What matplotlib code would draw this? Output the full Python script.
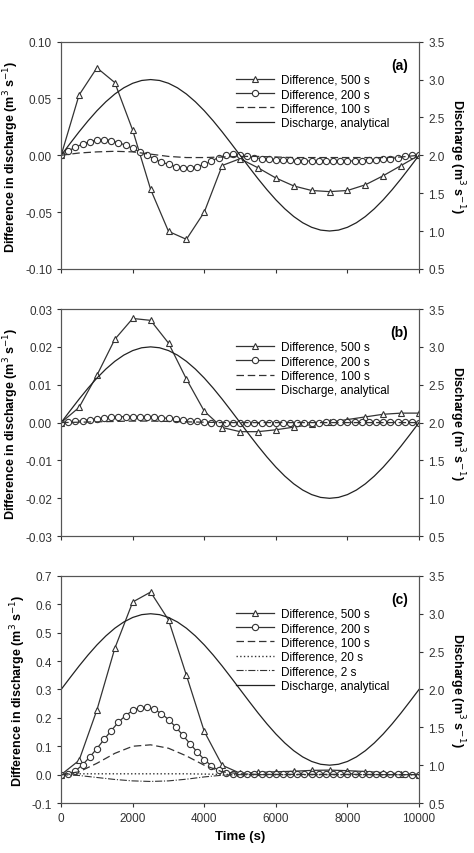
import matplotlib
matplotlib.use("Agg")
import matplotlib.pyplot as plt
import numpy as np

plt.rcParams['font.family'] = ['Liberation Sans', 'DejaVu Sans']

# analytical discharge, 250 s spacing
t_q = list(range(0, 10001, 250))
s = [0.000, 0.156, 0.309, 0.454, 0.588, 0.707, 0.809, 0.891, 0.951, 0.988, 1.000,
     0.988, 0.951, 0.891, 0.809, 0.707, 0.588, 0.454, 0.309, 0.156, 0.000,
     -0.156, -0.309, -0.454, -0.588, -0.707, -0.809, -0.891, -0.951, -0.988, -1.000,
     -0.988, -0.951, -0.891, -0.809, -0.707, -0.588, -0.454, -0.309, -0.156, 0.000]
discharge = [2 + v for v in s]

t500 = list(range(0, 10001, 500))
t200 = list(range(0, 10001, 200))
t100 = list(range(0, 10001, 500))

# panel (a)
a500 = [0, 0.053, 0.077, 0.064, 0.022, -0.030, -0.067, -0.074, -0.050, -0.009, -0.003,
        -0.011, -0.020, -0.027, -0.031, -0.032, -0.031, -0.026, -0.018, -0.009, 0]
a200 = [0, 0.004, 0.007, 0.010, 0.012, 0.0135, 0.0138, 0.013, 0.011, 0.009, 0.006,
        0.003, 0.000, -0.003, -0.006, -0.008, -0.010, -0.011, -0.011, -0.010, -0.008,
        -0.005, -0.002, 0.000, 0.001, 0.000, -0.001, -0.002, -0.003, -0.003, -0.004,
        -0.004, -0.0045, -0.005, -0.005, -0.005, -0.005, -0.005, -0.005, -0.005, -0.005,
        -0.005, -0.005, -0.004, -0.004, -0.003, -0.003, -0.002, -0.001, 0.000, 0]
a100 = [0, 0.002, 0.003, 0.0035, 0.003, 0.001, -0.001, -0.002, -0.002, -0.0015, -0.001,
        -0.001, -0.0015, -0.002, -0.002, -0.002, -0.002, -0.002, -0.002, -0.0015, 0]

# panel (b)
b500 = [0, 0.004, 0.0125, 0.022, 0.0275, 0.027, 0.021, 0.0115, 0.003, -0.0013, -0.0024,
        -0.0024, -0.0019, -0.0012, -0.0005, 0.0001, 0.0008, 0.0015, 0.0022, 0.0025, 0.0025]
b200 = [0, 0.0001, 0.0003, 0.0005, 0.0008, 0.0010, 0.0012, 0.0014, 0.0015, 0.0016, 0.0016,
        0.0016, 0.0016, 0.0015, 0.0013, 0.0011, 0.0009, 0.0007, 0.0005, 0.0003, 0.0001,
        0.0000, -0.0001, -0.0002, -0.0002, -0.0002, -0.0002, -0.0002, -0.0002, -0.0002, -0.0002,
        -0.0002, -0.0001, -0.0001, -0.0001, 0.0000, 0.0000, 0.0001, 0.0001, 0.0001, 0.0001,
        0.0001, 0.0001, 0.0001, 0.0001, 0.0001, 0.0001, 0.0001, 0.0001, 0.0001, 0]
b100 = [0, 0.0001, 0.0002, 0.0003, 0.0004, 0.0004, 0.0003, 0.0002, 0.0001, 0.0000, 0.0000,
        0.0000, 0.0000, 0.0000, 0.0000, 0.0000, 0.0000, 0.0000, 0.0000, 0.0000, 0]

# panel (c)
c500 = [0, 0.05, 0.228, 0.445, 0.608, 0.643, 0.545, 0.35, 0.152, 0.033, 0.005,
        0.008, 0.010, 0.012, 0.015, 0.016, 0.014, 0.011, 0.007, 0.003, 0]
c200 = [0, 0.003, 0.013, 0.035, 0.062, 0.092, 0.124, 0.155, 0.185, 0.208, 0.226,
        0.236, 0.237, 0.230, 0.215, 0.194, 0.168, 0.139, 0.109, 0.080, 0.053,
        0.031, 0.015, 0.007, 0.003, 0.002, 0.002, 0.002, 0.003, 0.003, 0.003,
        0.003, 0.003, 0.003, 0.003, 0.003, 0.003, 0.003, 0.003, 0.003, 0.003,
        0.003, 0.003, 0.002, 0.002, 0.002, 0.001, 0.001, 0.001, 0.000, 0]
c100 = [0, 0.01, 0.04, 0.075, 0.100, 0.105, 0.093, 0.066, 0.033, 0.010, 0.003,
        0.001, 0.001, 0.001, 0.001, 0.001, 0.001, 0.001, 0.000, 0.000, 0]
c20 = [0, 0.003, 0.003, 0.003, 0.003, 0.003, 0.003, 0.003, 0.002, 0.001, 0.000,
       0.000, 0.000, 0.000, 0.000, 0.000, 0.000, 0.000, 0.000, 0.000, 0]
c2 = [0, -0.003, -0.010, -0.017, -0.022, -0.024, -0.022, -0.016, -0.008, -0.002, 0.000,
      0.000, 0.000, 0.000, 0.000, 0.000, 0.000, 0.000, 0.000, 0.000, 0]

fig = plt.figure(figsize=(4.74, 8.54), dpi=100)
L, W, H = 0.129, 0.755, 0.266
bottoms = [0.684, 0.371, 0.0585]
panels = [
    ("(a)", (-0.10, 0.10), [-0.10, -0.05, 0.00, 0.05, 0.10], "%.2f",
     [(a500, '500'), (a200, '200'), (a100, '100')]),
    ("(b)", (-0.03, 0.03), [-0.03, -0.02, -0.01, 0.00, 0.01, 0.02, 0.03], "%.2f",
     [(b500, '500'), (b200, '200'), (b100, '100')]),
    ("(c)", (-0.1, 0.7), [-0.1, 0, 0.1, 0.2, 0.3, 0.4, 0.5, 0.6, 0.7], "%.1f",
     [(c500, '500'), (c200, '200'), (c100, '100'), (c20, '20'), (c2, '2')]),
]
ylab = "Difference in discharge (m$^3$ s$^{-1}$)"
for i, (tag, ylim, yt, fmt, series) in enumerate(panels):
    ax = fig.add_axes([L, bottoms[i], W, H])
    ax2 = ax.twinx()
    handles = []
    for data, name in series:
        lab = f"Difference, {name} s"
        if name == '500':
            h, = ax.plot(t500, data, '-', color='#333333', lw=0.9, marker='^',
                         mfc='white', mec='#333333', ms=4.5, mew=0.8, label=lab)
        elif name == '200':
            h, = ax.plot(t200, data, '-', color='#333333', lw=0.9, marker='o',
                         mfc='white', mec='#333333', ms=4.5, mew=0.8, label=lab)
        elif name == '100':
            h, = ax.plot(t100, data, '--', color='#333333', lw=0.9, dashes=(6, 3), label=lab)
        elif name == '20':
            h, = ax.plot(t100, data, ':', color='#333333', lw=1.0, label=lab)
        else:
            h, = ax.plot(t100, data, '-.', color='#333333', lw=0.8, label=lab)
        handles.append(h)
    hq, = ax2.plot(t_q, discharge, '-', color='#222222', lw=0.9, label="Discharge, analytical")
    handles.append(hq)
    ax.set_xlim(0, 10000)
    ax.set_ylim(*ylim)
    ax.set_yticks(yt)
    ax.set_yticklabels([fmt % v for v in yt], fontsize=8.5)
    ax2.set_ylim(0.5, 3.5)
    ax2.set_yticks([0.5, 1.0, 1.5, 2.0, 2.5, 3.0, 3.5])
    ax2.set_yticklabels(["%.1f" % v for v in [0.5, 1.0, 1.5, 2.0, 2.5, 3.0, 3.5]], fontsize=8.5)
    ax.set_xticks([0, 2000, 4000, 6000, 8000, 10000])
    if i == 2:
        ax.set_xticklabels(["0", "2000", "4000", "6000", "8000", "10000"], fontsize=8.5)
        ax.set_xlabel("Time (s)", fontsize=9.5, fontweight='bold')
    else:
        ax.set_xticklabels([])
    ax.set_ylabel(ylab, fontsize=9, fontweight='bold', labelpad=3)
    ax2.set_ylabel("Discharge (m$^3$ s$^{-1}$)", fontsize=9, fontweight='bold',
                   rotation=270, labelpad=16)
    for a in (ax, ax2):
        a.tick_params(direction='out', length=3, width=0.8, colors='#333333')
        for sp in a.spines.values():
            sp.set_color('#555555')
    ax.text(0.97, 0.93, tag, transform=ax.transAxes, ha='right', va='top',
            fontsize=10, fontweight='bold')
    ax.legend(handles=handles, loc='upper right', bbox_to_anchor=(0.93, 0.88),
              frameon=False, fontsize=8.5, handlelength=3.2, labelspacing=0.2,
              handletextpad=0.6, borderaxespad=0)

fig.savefig("out.png", dpi=100)
